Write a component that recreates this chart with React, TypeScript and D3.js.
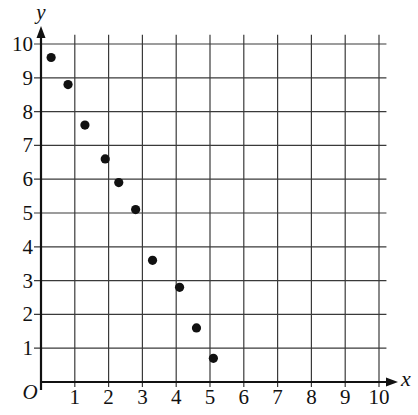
import * as d3 from "d3";

// scatter values
const xValues = [0.3, 0.8, 1.3, 1.9, 2.3, 2.8, 3.3, 4.1, 4.6, 5.1];
const yValues = [9.6, 8.8, 7.6, 6.6, 5.9, 5.1, 3.6, 2.8, 1.6, 0.7];
const xTicks = [1, 2, 3, 4, 5, 6, 7, 8, 9, 10];
const yTicks = [1, 2, 3, 4, 5, 6, 7, 8, 9, 10];

const W = 418;
const H = 415;
const serif = "'Liberation Serif', 'Times New Roman', serif";

export default function App() {
  const x = d3.scaleLinear().domain([0, 10]).range([41, 379]);
  const y = d3.scaleLinear().domain([0, 10]).range([382, 44]);

  const points = xValues.map((v, i) => ({ x: v, y: yValues[i] }));

  const gridRight = x(10.22);
  const gridTop = y(10.27);
  const txt = { fontFamily: serif, fill: "#111" };

  return (
    <svg width={W} height={H} style={{ position: "absolute", left: 0, top: 0, background: "#fff" }}>
      {/* grid */}
      {xTicks.map((t) => (
        <line key={"gx" + t} x1={x(t)} x2={x(t)} y1={y(0) + 5} y2={gridTop} stroke="#3a3a3a" strokeWidth={1.2} />
      ))}
      {yTicks.map((t) => (
        <line key={"gy" + t} x1={x(0) - 7} x2={gridRight} y1={y(t)} y2={y(t)} stroke="#3a3a3a" strokeWidth={1.2} />
      ))}

      {/* axes */}
      <line x1={x(0)} x2={x(0)} y1={y(0) + 8} y2={33} stroke="#111" strokeWidth={2.2} />
      <path d={`M${x(0)},26 L${x(0) - 4.5},38 L${x(0) + 4.5},38 Z`} fill="#111" />
      <line x1={x(0) - 1} x2={392} y1={y(0)} y2={y(0)} stroke="#111" strokeWidth={2.2} />
      <path d={`M398,${y(0)} L386,${y(0) - 4.5} L386,${y(0) + 4.5} Z`} fill="#111" />

      {/* tick labels */}
      {xTicks.map((t) => (
        <text key={"tx" + t} x={x(t)} y={404} textAnchor="middle" fontSize={21} style={txt}>
          {t}
        </text>
      ))}
      {yTicks.map((t) => (
        <text key={"ty" + t} x={33} y={y(t) + 7} textAnchor="end" fontSize={21} style={txt}>
          {t}
        </text>
      ))}

      <text x={30} y={399} textAnchor="middle" fontStyle="italic" fontSize={21} style={txt}>
        O
      </text>
      <text x={406} y={386} textAnchor="middle" fontStyle="italic" fontSize={22} style={txt}>
        x
      </text>
      <text x={41} y={19} textAnchor="middle" fontStyle="italic" fontSize={21} style={txt}>
        y
      </text>

      {/* points */}
      {points.map((p, i) => (
        <circle key={i} cx={x(p.x)} cy={y(p.y)} r={4.6} fill="#111" />
      ))}
    </svg>
  );
}
